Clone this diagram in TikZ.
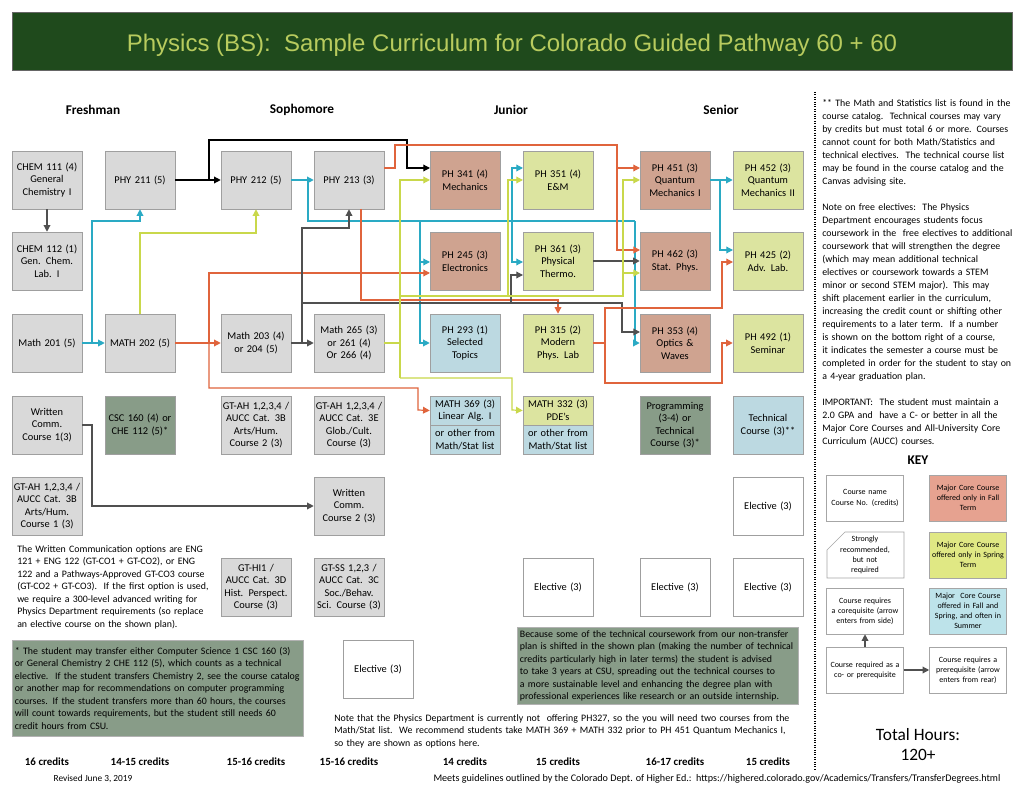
\documentclass[tikz,border=0pt]{standalone}
\usepackage{fontspec}
\setmainfont{Carlito}
\newfontfamily\arialf{Liberation Sans}
\usetikzlibrary{arrows.meta}
\definecolor{boxgray}{HTML}{D9D9D9}
\definecolor{corange}{HTML}{CFA390}
\definecolor{cyellow}{HTML}{DCE4A0}
\definecolor{cblue}{HTML}{BCD9E1}
\definecolor{cdgreen}{HTML}{889C88}
\definecolor{kor}{HTML}{E6A290}
\definecolor{kye}{HTML}{E0E884}
\definecolor{kbl}{HTML}{BDE3EA}
\definecolor{lO}{HTML}{E0643C}
\definecolor{lC}{HTML}{2AAAC4}
\definecolor{lY}{HTML}{C9D84B}
\definecolor{lG}{HTML}{505050}
\definecolor{titlebg}{HTML}{1F4A1C}
\definecolor{titlefg}{HTML}{B8CB5E}
\newcommand{\bxf}{\fontsize{7.8}{9.4}\selectfont}
\newcommand{\pf}{\fontsize{7.4}{9.4}\selectfont\hyphenpenalty=10000\exhyphenpenalty=10000}
\tikzset{
 bx/.style={draw=gray!75, fill=boxgray, minimum width=52.5pt, minimum height=43.5pt, text width=50pt, align=center, font=\bxf, inner sep=0pt},
 half/.style={bx, minimum height=21.75pt},
 ln/.style={line width=0.9pt, rounded corners=0pt},
 arr/.style={ln,-{Triangle[length=5pt,width=5pt]}},
 para/.style={anchor=north west, align=left, inner sep=0pt, font=\pf},
}
\begin{document}
\begin{tikzpicture}[x=0.75pt,y=-0.75pt]
\useasboundingbox (0,0) rectangle (1024,791);
\fill[white] (0,0) rectangle (1024,791);
% title
\draw[fill=titlebg,draw=black!60] (12,12) rectangle (1012,70);
\node[text=titlefg,font=\arialf\fontsize{18}{20}\selectfont] (title) at (512,45) {Physics (BS):\ \ Sample Curriculum for Colorado Guided Pathway 60 + 60};
% headers
\foreach \t/\x in {Freshman/93,Sophomore/302,Junior/511,Senior/721}
  \node[font=\bfseries\fontsize{10}{12}\selectfont] (h\t) at (\x,110) {\t};
\draw[densely dotted, line width=0.8pt] (815,92) -- (815,770);
% nodes
\node[bx] (chem111) at (47,180) {CHEM 111 (4)\\General\\Chemistry I};
\node[bx] (chem112) at (47,261) {CHEM 112 (1)\\Gen. Chem.\\Lab. I};
\node[bx] (math201) at (47,343) {Math 201 (5)};
\node[bx] (wc1) at (47,425) {Written\\Comm.\\Course 1(3)};
\node[bx] (gtah1) at (47,506) {GT-AH 1,2,3,4 /\\AUCC Cat. 3B\\Arts/Hum.\\Course 1 (3)};
\node[bx] (phy211) at (140,180) {PHY 211 (5)};
\node[bx] (math202) at (140,343) {MATH 202 (5)};
\node[bx,fill=cdgreen] (csc) at (140,425) {CSC 160 (4) or\\CHE 112 (5)*};
\node[bx] (phy212) at (256,180) {PHY 212 (5)};
\node[bx] (math203) at (256,343) {Math 203 (4)\\or 204 (5)};
\node[bx] (gtah2) at (256,425) {GT-AH 1,2,3,4 /\\AUCC Cat. 3B\\Arts/Hum.\\Course 2 (3)};
\node[bx] (gthi) at (256,587) {GT-HI1 /\\AUCC Cat. 3D\\Hist. Perspect.\\Course (3)};
\node[bx] (phy213) at (349,180) {PHY 213 (3)};
\node[bx] (math265) at (349,343) {Math 265 (3)\\or 261 (4)\\Or 266 (4)};
\node[bx] (gtah3) at (349,425) {GT-AH 1,2,3,4 /\\AUCC Cat. 3E\\Glob./Cult.\\Course (3)};
\node[bx] (wc2) at (349,506) {Written\\Comm.\\Course 2 (3)};
\node[bx] (gtss) at (349,587) {GT-SS 1,2,3 /\\AUCC Cat. 3C\\Soc./Behav.\\Sci. Course (3)};
\node[bx,fill=white] (el1) at (378,669) {Elective (3)};
\node[bx,fill=corange] (ph341) at (465,180) {PH 341 (4)\\Mechanics};
\node[bx,fill=corange] (ph245) at (465,261) {PH 245 (3)\\Electronics};
\node[bx,fill=cblue] (ph293) at (465,343) {PH 293 (1)\\Selected\\Topics};
\node[half,fill=cblue] (m369) at (465,410.5) {MATH 369 (3)\\Linear Alg. I};
\node[half,fill=cblue] (m369b) at (465,439.5) {or other from\\Math/Stat list};
\node[bx,fill=cyellow] (ph351) at (558,180) {PH 351 (4)\\E\&M};
\node[bx,fill=cyellow] (ph361) at (558,261) {PH 361 (3)\\Physical\\Thermo.};
\node[bx,fill=cyellow] (ph315) at (558,343) {PH 315 (2)\\Modern\\Phys. Lab};
\node[half,fill=cyellow] (m332) at (558,410.5) {MATH 332 (3)\\PDE’s};
\node[half,fill=cblue] (m332b) at (558,439.5) {or other from\\Math/Stat list};
\node[bx,fill=white] (el2) at (558,587) {Elective (3)};
\node[bx,fill=corange] (ph451) at (675,180) {PH 451 (3)\\Quantum\\Mechanics I};
\node[bx,fill=corange] (ph462) at (675,261) {PH 462 (3)\\Stat. Phys.};
\node[bx,fill=corange] (ph353) at (675,343) {PH 353 (4)\\Optics \&\\Waves};
\node[bx,fill=cdgreen] (prog) at (675,425) {Programming\\(3-4) or\\Technical\\Course (3)*};
\node[bx,fill=white] (el3) at (675,587) {Elective (3)};
\node[bx,fill=cyellow] (ph452) at (768,180) {PH 452 (3)\\Quantum\\Mechanics II};
\node[bx,fill=cyellow] (ph425) at (768,261) {PH 425 (2)\\Adv. Lab.};
\node[bx,fill=cyellow] (ph492) at (768,343) {PH 492 (1)\\Seminar};
\node[bx,fill=cblue] (tech) at (768,425) {Technical\\Course (3)**};
\node[bx,fill=white] (el4) at (768,506) {Elective (3)};
\node[bx,fill=white] (el5) at (768,587) {Elective (3)};
% connectors
\draw[arr,lG] (chem111) -- (chem112);
\draw[arr,lC] (math201) -- (math202);
\draw[arr,lC] (92,343) -- (92,221) -- (140,221) -- (phy211.south);
\draw[arr,lY] (math202.north) -- (140,233) -- (256,233) -- (phy212.south);
\draw[arr,black] (phy211) -- (phy212);
\draw[arr,black] (209,180) -- (209,140) -- (407,140) -- (407,168) -- (430,168);
\draw[arr,lC] (phy212) -- (phy213);
\draw[ln,lC] (308,180) -- (308,221) -- (635,221);
\draw[arr,lC] (635,221) -- (635,343) -- (ph353.west);
\draw[arr,lC] (420,221) -- (420,343) -- (ph293.west);
\draw[arr,lC] (420,262) -- (430,262);
\draw[arr,lC] (512,221) -- (512,168) -- (523,168);
\draw[arr,lC] (512,221) -- (512,262) -- (523,262);
\draw[arr,lC] (ph451.east) -- (ph452.west);
\draw[arr,lC] (720,180) -- (720,250) -- (733,250);
\draw[arr,lO] (math202) -- (math203);
\draw[arr,lO] (209,343) -- (209,273) -- (430,273);
\draw[arr,lO] (209,343) -- (209,388) -- (418,388) -- (418,410) -- (m369.west);
\draw[arr,lO] (384,168) -- (395,168) -- (395,145) -- (617,145) -- (617,168) -- (640,168);
\draw[arr,lO] (617,168) -- (617,250) -- (640,250);
\draw[arr,lO] (361,209) -- (361,300) -- (558,300) -- (ph315.north);
\draw[arr,lG] (math203) -- (math265);
\draw[arr,lG] (302,343) -- (302,228) -- (349,228) -- (phy213.south);
\draw[arr,lG] (302,343) -- (302,303) -- (622,303) -- (622,332) -- (640,332);
\draw[arr,lG] (511,303) -- (511,275) -- (523,275);
\draw[arr,lG] (ph361.east) -- (ph462.west);
\draw[ln,lY] (math265.east) -- (400,343);
\draw[arr,lY] (400,378) -- (400,180) -- (430,180);
\draw[arr,lY] (400,378) -- (512,378) -- (512,410) -- (m332.west);
\draw[arr,lY] (400,296) -- (623,296) -- (623,273) -- (640,273);
\draw[arr,lY] (623,273) -- (623,180) -- (640,180);
\draw[arr,lY] (508,296) -- (508,180) -- (523,180);
\draw[ln,lO] (ph315.east) -- (605,343);
\draw[arr,lO] (605,343) -- (605,308) -- (722,308) -- (722,262) -- (733,262);
\draw[arr,lO] (605,343) -- (605,383) -- (722,383) -- (722,343) -- (ph492.west);
\draw[arr,lG] (wc1.east) -- (92,425) -- (92,506) -- (wc2.west);
% texts
\node[para, text width=145pt, font=\pf\fontsize{7.4}{9.75}\selectfont] (rtext) at (822,99) {** The Math and Statistics list is found in the course catalog.\ \ Technical courses may vary by credits but must total 6 or more. Courses cannot count for both Math/Statistics and technical electives.\ \ The technical course list may be found in the course catalog and the Canvas advising site.\par\vspace{9.75pt}
Note on free electives:\ \ The Physics Department encourages students focus coursework in the\ \ free electives to additional coursework that will strengthen the degree (which may mean additional technical electives or coursework towards a STEM minor or second STEM major). This may shift placement earlier in the curriculum, increasing the credit count or shifting other requirements to a later term.\ \ If a number is shown on the bottom right of a course, it indicates the semester a course must be completed in order for the student to stay on a 4-year graduation plan.\par\vspace{9.75pt}
IMPORTANT:\ \ The student must maintain a 2.0 GPA and\ \ have a C- or better in all the Major Core Courses and All-University Core Curriculum (AUCC) courses.};
\node[font=\bfseries\fontsize{10}{12}\selectfont] (key) at (918,460) {KEY};
\tikzset{kb/.style={draw=gray!70, minimum width=57.75pt, minimum height=34.5pt, text width=54pt, align=center, font=\fontsize{6}{7.6}\selectfont, inner sep=0pt}}
\node[kb] (k1) at (865,498) {Course name\\Course No. (credits)};
\node[kb,fill=kor] (k2) at (968,498) {Major Core Course\\offered only in Fall\\Term};
\draw[draw=gray!70] (827,550) -- (845,532) -- (904,532) -- (904,578) -- (827,578) -- cycle;
\node[kb,draw=none] (k3) at (865,555) {Strongly\\recommended,\\but not\\required};
\node[kb,fill=kye] (k4) at (968,555) {Major Core Course\\offered only in Spring\\Term};
\node[kb] (k5) at (865,611) {Course requires\\a corequisite (arrow\\enters from side)};
\node[kb,fill=kbl] (k6) at (968,611) {Major\ \ Core Course\\offered in Fall and\\Spring, and often in\\Summer};
\node[kb] (k7) at (865,670) {Course required as a\\co- or prerequisite};
\node[kb] (k8) at (968,670) {Course requires a\\prerequisite (arrow\\enters from rear)};
\draw[arr,lG] (k7.north) -- (k5.south);
\draw[arr,lG] (k7.east) -- (k8.west);
\node[align=center, font=\fontsize{13}{15}\selectfont] (tot) at (918,745) {Total Hours:\\120+};
\node[para, text width=148pt] (wtext) at (17,545) {The Written Communication options are ENG 121 + ENG 122 (GT-CO1 + GT-CO2), or ENG 122 and a Pathways-Approved GT-CO3 course (GT-CO2 + GT-CO3).\ \ If the first option is used, we require a 300-level advanced writing for Physics Department requirements (so replace an elective course on the shown plan).};
\node[draw=gray!60, fill=cdgreen, anchor=north west, minimum width=217.5pt, minimum height=72pt, text width=214pt, font=\pf, inner xsep=2pt, inner ysep=3pt, align=left] (gnote1) at (12,640) {* The student may transfer either Computer Science 1 CSC 160 (3) or General Chemistry 2 CHE 112 (5), which counts as a technical elective.\ \ If the student transfers Chemistry 2, see the course catalog or another map for recommendations on computer programming courses. If the student transfers more than 60 hours, the courses will count towards requirements, but the student still needs 60 credit hours from CSU.};
\node[draw=gray!60, fill=cdgreen, anchor=north west, minimum width=210pt, minimum height=57.75pt, text width=207pt, font=\pf, inner xsep=2pt, inner ysep=2pt, align=left] (gnote2) at (517,627) {Because some of the technical coursework from our non-transfer plan is shifted in the shown plan (making the number of technical credits particularly high in later terms) the student is advised to take 3 years at CSU, spreading out the technical courses to a more sustainable level and enhancing the degree plan with professional experiences like research or an outside internship.};
\node[para, text width=345pt] (ntext) at (334,714) {Note that the Physics Department is currently not\ \ offering PH327, so the you will need two courses from the Math/Stat list.\ \ We recommend students take MATH 369 + MATH 332 prior to PH 451 Quantum Mechanics I, so they are shown as options here.};
\foreach \t/\x [count=\i] in {16 credits/47,14-15 credits/140,15-16 credits/256,15-16 credits/349,14 credits/465,15 credits/558,16-17 credits/675,15 credits/768}
  \node[font=\bfseries\fontsize{8.2}{10}\selectfont] (cr\i) at (\x,762) {\t};
\node[font=\fontsize{7}{9}\selectfont] (rev) at (93,779) {Revised June 3, 2019};
\node[font=\fontsize{7.6}{9}\selectfont] (meets) at (717,779) {Meets guidelines outlined by the Colorado Dept. of Higher Ed.:\ \ https://highered.colorado.gov/Academics/Transfers/TransferDegrees.html};
\end{tikzpicture}
\end{document}
